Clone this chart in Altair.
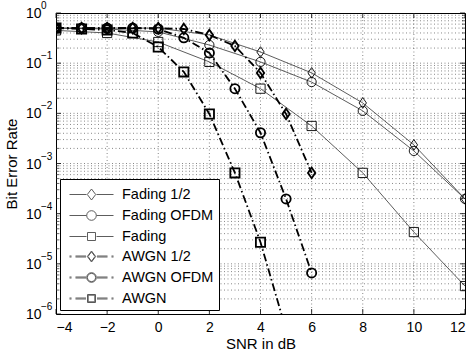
import altair as alt
import pandas as pd

# ---------------- data ----------------
series_order = ["Fading 1/2", "Fading OFDM", "Fading", "AWGN 1/2", "AWGN OFDM", "AWGN"]

snr_fading = [-4, -2, 0, 2, 4, 6, 8, 10, 12]
ber_fading_half = [0.50, 0.50, 0.50, 0.365, 0.167, 0.064, 0.0161, 0.00235, 0.000197]
ber_fading_ofdm = [0.50, 0.48, 0.42, 0.23, 0.106, 0.042, 0.0112, 0.00178, 0.000197]
ber_fading = [0.45, 0.40, 0.264, 0.106, 0.031, 0.0056, 0.00065, 4.3e-5, 3.6e-6]

snr_awgn = [-4, -3, -2, -1, 0, 1, 2, 3, 4, 5, 6]
ber_awgn_half = [0.50, 0.50, 0.50, 0.50, 0.50, 0.48, 0.365, 0.22, 0.064, 0.0097, 0.00065]
ber_awgn_ofdm = [0.50, 0.50, 0.50, 0.50, 0.48, 0.32, 0.16, 0.031, 0.0041, 0.000197, 6.6e-6]
snr_awgn_plain = [-4, -3, -2, -1, 0, 1, 2, 3, 4, 5]
ber_awgn_plain = [0.50, 0.48, 0.46, 0.40, 0.21, 0.067, 0.0097, 0.00065, 2.7e-5, 4.8e-7]

x_ticks = [-4, -2, 0, 2, 4, 6, 8, 10, 12]
y_decades = [1, 1e-1, 1e-2, 1e-3, 1e-4, 1e-5, 1e-6]
y_exponents = ["0", "\u22121", "\u22122", "\u22123", "\u22124", "\u22125", "\u22126"]
y_minor = [m * d for d in [1e-6, 1e-5, 1e-4, 1e-3, 1e-2, 1e-1] for m in [2, 3, 4, 5, 6, 7, 8, 9]]

# ---------------- tables ----------------
rows = []
def add(name, kind, marker, sw, xs, ys):
    for a, b in zip(xs, ys):
        rows.append({"snr": a, "ber": b, "series": name, "kind": kind, "marker": marker, "sw": sw})

DIAMOND = "M0,-1.15L0.8,0L0,1.15L-0.8,0Z"
add("Fading 1/2", "fading", DIAMOND, 0.9, snr_fading, ber_fading_half)
add("Fading OFDM", "fading", "circle", 0.9, snr_fading, ber_fading_ofdm)
add("Fading", "fading", "square", 0.9, snr_fading, ber_fading)
add("AWGN 1/2", "awgn", DIAMOND, 1.8, snr_awgn, ber_awgn_half)
add("AWGN OFDM", "awgn", "circle", 1.8, snr_awgn, ber_awgn_ofdm)
add("AWGN", "awgn", "square", 1.8, snr_awgn_plain, ber_awgn_plain)
df = pd.DataFrame(rows)

grid_x = pd.DataFrame({"snr": [v for v in x_ticks if v not in (-4, 12)]})
grid_y = pd.DataFrame({"ber": [v for v in y_decades + y_minor if 1e-6 < v < 1]})
tick_major_y = pd.DataFrame({"ber": y_decades})
tick_minor_y = pd.DataFrame({"ber": y_minor})
tick_x = pd.DataFrame({"snr": x_ticks})
ylabels = pd.DataFrame({"ber": y_decades, "exp": y_exponents})

W, H = 409, 301
FONT = "Liberation Sans"

xscale = alt.Scale(domain=[-4, 12], nice=False, zero=False)
yscale = alt.Scale(type="log", domain=[1e-6, 1], nice=False)
xaxis = alt.Axis(values=x_ticks, grid=False, ticks=False, tickSize=0, domain=False,
                 labelFont=FONT, labelFontSize=14, labelPadding=6, labelColor="black",
                 title="SNR in dB", titleFont=FONT, titleFontSize=15, titleFontWeight="normal",
                 titleColor="black", titleY=34, titleBaseline="alphabetic")
yaxis = alt.Axis(grid=False, ticks=False, tickSize=0, domain=False, labels=False,
                 title="Bit Error Rate", titleFont=FONT, titleFontSize=15,
                 titleFontWeight="normal", titleColor="black", titlePadding=37)

X = lambda: alt.X("snr:Q", scale=xscale, axis=xaxis)
Y = lambda: alt.Y("ber:Q", scale=yscale, axis=yaxis)

grid_dash = [1, 2.5]
vgrid = alt.Chart(grid_x).mark_rule(color="#555", strokeWidth=0.7, strokeDash=grid_dash).encode(
    x=X(), y=alt.value(0), y2=alt.value(H))
hgrid = alt.Chart(grid_y).mark_rule(color="#555", strokeWidth=0.7, strokeDash=grid_dash).encode(
    y=Y(), x=alt.value(0), x2=alt.value(W))

tick_b = alt.Chart(tick_x).mark_rule(color="black", strokeWidth=0.8).encode(
    x=X(), y=alt.value(H), y2=alt.value(H - 5))
tick_t = alt.Chart(tick_x).mark_rule(color="black", strokeWidth=0.8).encode(
    x=X(), y=alt.value(0), y2=alt.value(5))
tick_l = alt.Chart(tick_major_y).mark_rule(color="black", strokeWidth=0.8).encode(
    y=Y(), x=alt.value(0), x2=alt.value(5))
tick_r = alt.Chart(tick_major_y).mark_rule(color="black", strokeWidth=0.8).encode(
    y=Y(), x=alt.value(W), x2=alt.value(W - 5))
mtick_l = alt.Chart(tick_minor_y).mark_rule(color="black", strokeWidth=0.6).encode(
    y=Y(), x=alt.value(0), x2=alt.value(3))
mtick_r = alt.Chart(tick_minor_y).mark_rule(color="black", strokeWidth=0.6).encode(
    y=Y(), x=alt.value(W), x2=alt.value(W - 3))

lbl_base = alt.Chart(ylabels).mark_text(align="left", baseline="middle", font=FONT,
                                        fontSize=14, dy=1, color="black").encode(
    y=Y(), x=alt.value(-30), text=alt.value("10"))
lbl_exp = alt.Chart(ylabels).mark_text(align="left", baseline="middle", font=FONT,
                                       fontSize=10, dy=-7, color="black").encode(
    y=Y(), x=alt.value(-15), text="exp:N")

lines_f = alt.Chart(df).transform_filter("datum.kind == 'fading'").mark_line(
    color="#333", strokeWidth=0.8, clip=True).encode(x=X(), y=Y(), detail="series:N")
lines_a = alt.Chart(df).transform_filter("datum.kind == 'awgn'").mark_line(
    color="black", strokeWidth=1.8, strokeDash=[8, 3, 1.5, 3], clip=True).encode(
    x=X(), y=Y(), detail="series:N")
pts = alt.Chart(df).mark_point(filled=False, color="black", size=85, opacity=1, clip=True).encode(
    x=X(), y=Y(),
    shape=alt.Shape("marker:N", scale=None, legend=None),
    strokeWidth=alt.StrokeWidth("sw:Q", scale=None, legend=None))

# legend symbols: line + marker drawn as one path (thick entries drawn with doubled strokes)
L_SOLID = "M-2.2,0L-0.5,0M0.5,0L2.2,0"
L_DASH = ("M-2.2,-0.05L-2.0,-0.05M-1.6,-0.05L-0.55,-0.05M0.55,-0.05L1.6,-0.05M2.0,-0.05L2.2,-0.05"
          "M-2.2,0.05L-2.0,0.05M-1.6,0.05L-0.55,0.05M0.55,0.05L1.6,0.05M2.0,0.05L2.2,0.05")
M_DIAM = "M0,-0.55L0.42,0L0,0.55L-0.42,0Z"
M_DIAM2 = M_DIAM + "M0,-0.47L0.35,0L0,0.47L-0.35,0Z"
M_CIRC = "M-0.48,0A0.48,0.48 0 1,0 0.48,0A0.48,0.48 0 1,0 -0.48,0Z"
M_CIRC2 = M_CIRC + "M-0.41,0A0.41,0.41 0 1,0 0.41,0A0.41,0.41 0 1,0 -0.41,0Z"
M_SQR = "M-0.4,-0.4L0.4,-0.4L0.4,0.4L-0.4,0.4Z"
M_SQR2 = M_SQR + "M-0.33,-0.33L0.33,-0.33L0.33,0.33L-0.33,0.33Z"
legend_paths = [L_SOLID + M_DIAM, L_SOLID + M_CIRC, L_SOLID + M_SQR,
                L_DASH + M_DIAM2, L_DASH + M_CIRC2, L_DASH + M_SQR2]

leg = alt.Legend(orient="none", legendX=4, legendY=166, title=None, fillColor="white",
                 strokeColor="black", padding=5, symbolSize=400, symbolOffset=16,
                 labelOffset=20, labelFont=FONT, labelFontSize=14.5, labelColor="black",
                 rowPadding=3, symbolStrokeColor="black", symbolFillColor="transparent",
                 symbolStrokeWidth=0.9, labelLimit=300)
# invisible carrier layer for the legend: points pushed outside the clipped plot area
legend_layer = alt.Chart(df).transform_calculate(hidden="1e-12").mark_point(
    filled=False, color="black", clip=True).encode(
    x=X(), y=alt.Y("hidden:Q", scale=yscale, axis=yaxis),
    shape=alt.Shape("series:N", scale=alt.Scale(domain=series_order, range=legend_paths), legend=leg))

chart = alt.layer(vgrid, hgrid, lines_f, lines_a, pts, tick_b, tick_t, tick_l, tick_r,
                  mtick_l, mtick_r, lbl_base, lbl_exp, legend_layer).resolve_scale(
    shape="independent").properties(
    width=W, height=H,
    autosize=alt.AutoSizeParams(type="none"),
    padding={"left": 56, "top": 13, "right": 9, "bottom": 39},
    background="white",
).configure_view(stroke="black", strokeWidth=1)

chart.save("out.html", embed_options={"renderer": "svg", "actions": False})
